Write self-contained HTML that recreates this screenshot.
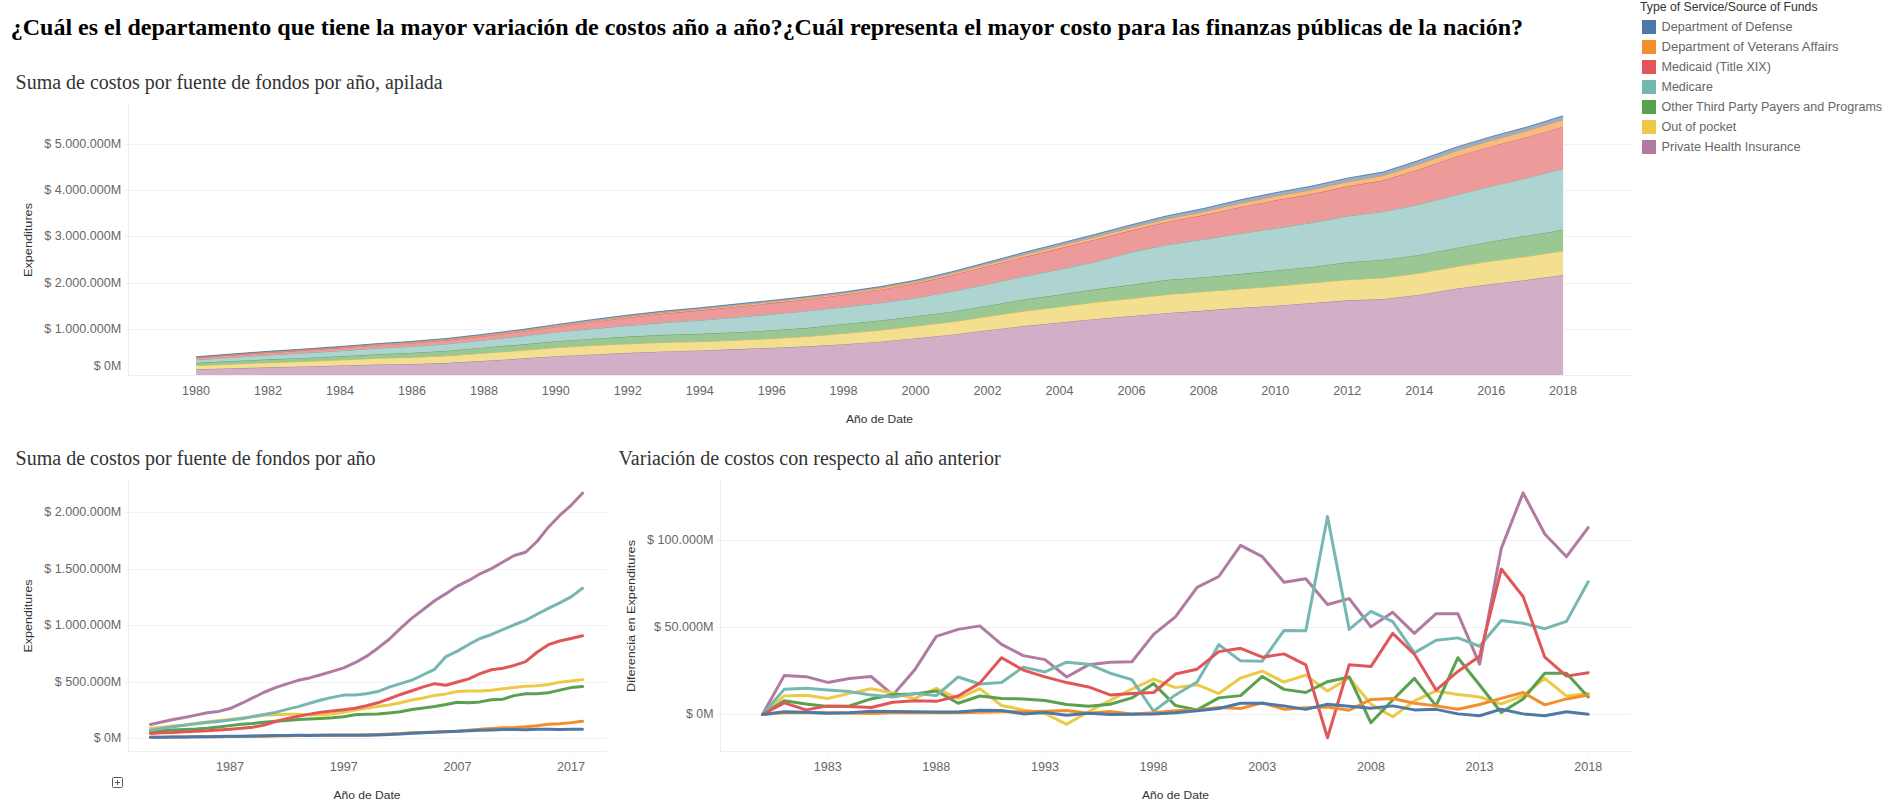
<!DOCTYPE html>
<html lang="es"><head><meta charset="utf-8"><title>Dashboard</title>
<style>html,body{margin:0;padding:0;background:#fff;width:1887px;height:809px;overflow:hidden}</style>
</head><body>
<svg width="1887" height="809" viewBox="0 0 1887 809" style="position:absolute;left:0;top:0">
<text x="10.8" y="35" font-size="24" fill="#000" text-anchor="start" font-family="'Liberation Serif', serif" textLength="1512.2" lengthAdjust="spacingAndGlyphs" font-weight="bold">¿Cuál es el departamento que tiene la mayor variación de costos año a año?¿Cuál representa el mayor costo para las finanzas públicas de la nación?</text>
<text x="15.6" y="89" font-size="20" fill="#333333" text-anchor="start" font-family="'Liberation Serif', serif" textLength="427" lengthAdjust="spacingAndGlyphs" >Suma de costos por fuente de fondos por año, apilada</text>
<text x="15.6" y="464.7" font-size="20" fill="#333333" text-anchor="start" font-family="'Liberation Serif', serif" textLength="360" lengthAdjust="spacingAndGlyphs" >Suma de costos por fuente de fondos por año</text>
<text x="618.6" y="464.7" font-size="20" fill="#333333" text-anchor="start" font-family="'Liberation Serif', serif" textLength="382" lengthAdjust="spacingAndGlyphs" >Variación de costos con respecto al año anterior</text>
<text x="1640" y="10.5" font-size="12" fill="#333333" text-anchor="start" font-family="'Liberation Sans', sans-serif" textLength="177.5" lengthAdjust="spacingAndGlyphs" >Type of Service/Source of Funds</text>
<rect x="1642" y="20" width="14" height="14" fill="#4e79a7"/>
<text x="1661.5" y="31" font-size="12" fill="#666666" text-anchor="start" font-family="'Liberation Sans', sans-serif" textLength="131" lengthAdjust="spacingAndGlyphs" >Department of Defense</text>
<rect x="1642" y="40" width="14" height="14" fill="#f28e2b"/>
<text x="1661.5" y="51" font-size="12" fill="#666666" text-anchor="start" font-family="'Liberation Sans', sans-serif" textLength="177" lengthAdjust="spacingAndGlyphs" >Department of Veterans Affairs</text>
<rect x="1642" y="60" width="14" height="14" fill="#e15759"/>
<text x="1661.5" y="71" font-size="12" fill="#666666" text-anchor="start" font-family="'Liberation Sans', sans-serif" textLength="109.4" lengthAdjust="spacingAndGlyphs" >Medicaid (Title XIX)</text>
<rect x="1642" y="80" width="14" height="14" fill="#76b7b2"/>
<text x="1661.5" y="91" font-size="12" fill="#666666" text-anchor="start" font-family="'Liberation Sans', sans-serif" textLength="51.4" lengthAdjust="spacingAndGlyphs" >Medicare</text>
<rect x="1642" y="100" width="14" height="14" fill="#59a14f"/>
<text x="1661.5" y="111" font-size="12" fill="#666666" text-anchor="start" font-family="'Liberation Sans', sans-serif" textLength="220.6" lengthAdjust="spacingAndGlyphs" >Other Third Party Payers and Programs</text>
<rect x="1642" y="120" width="14" height="14" fill="#edc948"/>
<text x="1661.5" y="131" font-size="12" fill="#666666" text-anchor="start" font-family="'Liberation Sans', sans-serif" textLength="74.8" lengthAdjust="spacingAndGlyphs" >Out of pocket</text>
<rect x="1642" y="140" width="14" height="14" fill="#b07aa1"/>
<text x="1661.5" y="151" font-size="12" fill="#666666" text-anchor="start" font-family="'Liberation Sans', sans-serif" textLength="139" lengthAdjust="spacingAndGlyphs" >Private Health Insurance</text>
<text x="121.3" y="370.0" font-size="12" fill="#666666" text-anchor="end" font-family="'Liberation Sans', sans-serif" textLength="27.5" lengthAdjust="spacingAndGlyphs" >$ 0M</text>
<line x1="124.5" y1="329.5" x2="1632" y2="329.5" stroke="#f1f1f1" stroke-width="1"/>
<text x="121.3" y="332.7" font-size="12" fill="#666666" text-anchor="end" font-family="'Liberation Sans', sans-serif" textLength="77" lengthAdjust="spacingAndGlyphs" >$ 1.000.000M</text>
<line x1="124.5" y1="283.5" x2="1632" y2="283.5" stroke="#f1f1f1" stroke-width="1"/>
<text x="121.3" y="286.7" font-size="12" fill="#666666" text-anchor="end" font-family="'Liberation Sans', sans-serif" textLength="77" lengthAdjust="spacingAndGlyphs" >$ 2.000.000M</text>
<line x1="124.5" y1="236.5" x2="1632" y2="236.5" stroke="#f1f1f1" stroke-width="1"/>
<text x="121.3" y="239.7" font-size="12" fill="#666666" text-anchor="end" font-family="'Liberation Sans', sans-serif" textLength="77" lengthAdjust="spacingAndGlyphs" >$ 3.000.000M</text>
<line x1="124.5" y1="190.5" x2="1632" y2="190.5" stroke="#f1f1f1" stroke-width="1"/>
<text x="121.3" y="193.7" font-size="12" fill="#666666" text-anchor="end" font-family="'Liberation Sans', sans-serif" textLength="77" lengthAdjust="spacingAndGlyphs" >$ 4.000.000M</text>
<line x1="124.5" y1="144.5" x2="1632" y2="144.5" stroke="#f1f1f1" stroke-width="1"/>
<text x="121.3" y="147.7" font-size="12" fill="#666666" text-anchor="end" font-family="'Liberation Sans', sans-serif" textLength="77" lengthAdjust="spacingAndGlyphs" >$ 5.000.000M</text>
<line x1="128.5" y1="104" x2="128.5" y2="375.5" stroke="#eeeeee" stroke-width="1"/>
<line x1="128.5" y1="375.5" x2="1632" y2="375.5" stroke="#eeeeee" stroke-width="1"/>
<polygon points="196.1,369.29 232.1,368.27 268.0,367.28 304.0,366.45 340.0,365.50 376.0,364.51 411.9,364.01 447.9,362.85 483.9,360.80 519.9,358.57 555.8,356.24 591.8,354.39 627.8,352.84 663.8,351.39 699.7,350.41 735.7,349.10 771.7,347.72 807.7,346.33 843.6,344.22 879.6,341.64 915.6,338.29 951.5,334.65 987.5,330.19 1023.5,326.02 1059.5,322.53 1095.4,318.93 1131.4,316.01 1167.4,312.94 1203.4,310.60 1239.3,307.87 1275.3,305.70 1311.3,303.03 1347.3,300.36 1383.2,299.03 1419.2,294.63 1455.2,288.78 1491.2,284.01 1527.1,279.84 1563.1,274.90 1563.1,374.90 1527.1,374.90 1491.2,374.90 1455.2,374.90 1419.2,374.90 1383.2,374.90 1347.3,374.90 1311.3,374.90 1275.3,374.90 1239.3,374.90 1203.4,374.90 1167.4,374.90 1131.4,374.90 1095.4,374.90 1059.5,374.90 1023.5,374.90 987.5,374.90 951.5,374.90 915.6,374.90 879.6,374.90 843.6,374.90 807.7,374.90 771.7,374.90 735.7,374.90 699.7,374.90 663.8,374.90 627.8,374.90 591.8,374.90 555.8,374.90 519.9,374.90 483.9,374.90 447.9,374.90 411.9,374.90 376.0,374.90 340.0,374.90 304.0,374.90 268.0,374.90 232.1,374.90 196.1,374.90" fill="#d0afc7" stroke="none"/>
<polyline points="196.1,369.29 232.1,368.27 268.0,367.28 304.0,366.45 340.0,365.50 376.0,364.51 411.9,364.01 447.9,362.85 483.9,360.80 519.9,358.57 555.8,356.24 591.8,354.39 627.8,352.84 663.8,351.39 699.7,350.41 735.7,349.10 771.7,347.72 807.7,346.33 843.6,344.22 879.6,341.64 915.6,338.29 951.5,334.65 987.5,330.19 1023.5,326.02 1059.5,322.53 1095.4,318.93 1131.4,316.01 1167.4,312.94 1203.4,310.60 1239.3,307.87 1275.3,305.70 1311.3,303.03 1347.3,300.36 1383.2,299.03 1419.2,294.63 1455.2,288.78 1491.2,284.01 1527.1,279.84 1563.1,274.90" fill="none" stroke="#9a6b8d" stroke-opacity="0.85" stroke-width="0.9"/>
<polygon points="196.1,365.59 232.1,364.13 268.0,362.68 304.0,361.47 340.0,360.01 376.0,358.39 411.9,357.38 447.9,355.86 483.9,353.19 519.9,350.60 555.8,347.66 591.8,345.57 627.8,343.90 663.8,342.44 699.7,341.71 735.7,340.34 771.7,338.59 807.7,336.54 843.6,333.51 879.6,330.24 915.6,326.11 951.5,321.92 987.5,316.51 1023.5,311.22 1059.5,306.89 1095.4,302.19 1131.4,298.59 1167.4,294.48 1203.4,291.73 1239.3,288.94 1275.3,286.28 1311.3,282.95 1347.3,279.72 1383.2,277.89 1419.2,273.17 1455.2,266.81 1491.2,261.08 1527.1,256.41 1563.1,250.91 1563.1,274.90 1527.1,279.84 1491.2,284.01 1455.2,288.78 1419.2,294.63 1383.2,299.03 1347.3,300.36 1311.3,303.03 1275.3,305.70 1239.3,307.87 1203.4,310.60 1167.4,312.94 1131.4,316.01 1095.4,318.93 1059.5,322.53 1023.5,326.02 987.5,330.19 951.5,334.65 915.6,338.29 879.6,341.64 843.6,344.22 807.7,346.33 771.7,347.72 735.7,349.10 699.7,350.41 663.8,351.39 627.8,352.84 591.8,354.39 555.8,356.24 519.9,358.57 483.9,360.80 447.9,362.85 411.9,364.01 376.0,364.51 340.0,365.50 304.0,366.45 268.0,367.28 232.1,368.27 196.1,369.29" fill="#f4df91" stroke="none"/>
<polyline points="196.1,365.59 232.1,364.13 268.0,362.68 304.0,361.47 340.0,360.01 376.0,358.39 411.9,357.38 447.9,355.86 483.9,353.19 519.9,350.60 555.8,347.66 591.8,345.57 627.8,343.90 663.8,342.44 699.7,341.71 735.7,340.34 771.7,338.59 807.7,336.54 843.6,333.51 879.6,330.24 915.6,326.11 951.5,321.92 987.5,316.51 1023.5,311.22 1059.5,306.89 1095.4,302.19 1131.4,298.59 1167.4,294.48 1203.4,291.73 1239.3,288.94 1275.3,286.28 1311.3,282.95 1347.3,279.72 1383.2,277.89 1419.2,273.17 1455.2,266.81 1491.2,261.08 1527.1,256.41 1563.1,250.91" fill="none" stroke="#d0b03f" stroke-opacity="0.85" stroke-width="0.9"/>
<polygon points="196.1,362.83 232.1,361.03 268.0,359.32 304.0,357.91 340.0,356.25 376.0,354.23 411.9,352.73 447.9,350.70 483.9,347.44 519.9,344.57 555.8,341.17 591.8,338.68 627.8,336.62 663.8,334.80 699.7,333.83 735.7,332.25 771.7,330.25 807.7,327.78 843.6,323.97 879.6,320.47 915.6,316.23 951.5,311.63 987.5,305.74 1023.5,299.49 1059.5,294.53 1095.4,289.27 1131.4,284.83 1167.4,279.77 1203.4,277.23 1239.3,274.06 1275.3,270.47 1311.3,266.93 1347.3,262.26 1383.2,259.68 1419.2,254.91 1455.2,248.15 1491.2,241.38 1527.1,235.66 1563.1,229.72 1563.1,250.91 1527.1,256.41 1491.2,261.08 1455.2,266.81 1419.2,273.17 1383.2,277.89 1347.3,279.72 1311.3,282.95 1275.3,286.28 1239.3,288.94 1203.4,291.73 1167.4,294.48 1131.4,298.59 1095.4,302.19 1059.5,306.89 1023.5,311.22 987.5,316.51 951.5,321.92 915.6,326.11 879.6,330.24 843.6,333.51 807.7,336.54 771.7,338.59 735.7,340.34 699.7,341.71 663.8,342.44 627.8,343.90 591.8,345.57 555.8,347.66 519.9,350.60 483.9,353.19 447.9,355.86 411.9,357.38 376.0,358.39 340.0,360.01 304.0,361.47 268.0,362.68 232.1,364.13 196.1,365.59" fill="#9bc795" stroke="none"/>
<polyline points="196.1,362.83 232.1,361.03 268.0,359.32 304.0,357.91 340.0,356.25 376.0,354.23 411.9,352.73 447.9,350.70 483.9,347.44 519.9,344.57 555.8,341.17 591.8,338.68 627.8,336.62 663.8,334.80 699.7,333.83 735.7,332.25 771.7,330.25 807.7,327.78 843.6,323.97 879.6,320.47 915.6,316.23 951.5,311.63 987.5,305.74 1023.5,299.49 1059.5,294.53 1095.4,289.27 1131.4,284.83 1167.4,279.77 1203.4,277.23 1239.3,274.06 1275.3,270.47 1311.3,266.93 1347.3,262.26 1383.2,259.68 1419.2,254.91 1455.2,248.15 1491.2,241.38 1527.1,235.66 1563.1,229.72" fill="none" stroke="#4e8d45" stroke-opacity="0.85" stroke-width="0.9"/>
<polygon points="196.1,359.83 232.1,357.40 268.0,355.03 304.0,353.01 340.0,350.78 376.0,348.29 411.9,346.38 447.9,343.84 483.9,340.13 519.9,336.33 555.8,332.17 591.8,328.85 627.8,325.55 663.8,322.61 699.7,320.27 735.7,317.36 771.7,314.28 807.7,310.89 843.6,307.00 879.6,302.99 915.6,297.90 951.5,291.46 987.5,284.17 1023.5,276.52 1059.5,269.34 1095.4,261.81 1131.4,252.10 1167.4,244.74 1203.4,239.37 1239.3,233.64 1275.3,228.32 1311.3,222.78 1347.3,216.06 1383.2,211.64 1419.2,204.37 1455.2,195.19 1491.2,186.14 1527.1,177.96 1563.1,168.51 1563.1,229.72 1527.1,235.66 1491.2,241.38 1455.2,248.15 1419.2,254.91 1383.2,259.68 1347.3,262.26 1311.3,266.93 1275.3,270.47 1239.3,274.06 1203.4,277.23 1167.4,279.77 1131.4,284.83 1095.4,289.27 1059.5,294.53 1023.5,299.49 987.5,305.74 951.5,311.63 915.6,316.23 879.6,320.47 843.6,323.97 807.7,327.78 771.7,330.25 735.7,332.25 699.7,333.83 663.8,334.80 627.8,336.62 591.8,338.68 555.8,341.17 519.9,344.57 483.9,347.44 447.9,350.70 411.9,352.73 376.0,354.23 340.0,356.25 304.0,357.91 268.0,359.32 232.1,361.03 196.1,362.83" fill="#add4d1" stroke="none"/>
<polyline points="196.1,359.83 232.1,357.40 268.0,355.03 304.0,353.01 340.0,350.78 376.0,348.29 411.9,346.38 447.9,343.84 483.9,340.13 519.9,336.33 555.8,332.17 591.8,328.85 627.8,325.55 663.8,322.61 699.7,320.27 735.7,317.36 771.7,314.28 807.7,310.89 843.6,307.00 879.6,302.99 915.6,297.90 951.5,291.46 987.5,284.17 1023.5,276.52 1059.5,269.34 1095.4,261.81 1131.4,252.10 1167.4,244.74 1203.4,239.37 1239.3,233.64 1275.3,228.32 1311.3,222.78 1347.3,216.06 1383.2,211.64 1419.2,204.37 1455.2,195.19 1491.2,186.14 1527.1,177.96 1563.1,168.51" fill="none" stroke="#67a19c" stroke-opacity="0.85" stroke-width="0.9"/>
<polygon points="196.1,357.75 232.1,355.02 268.0,352.54 304.0,350.30 340.0,347.85 376.0,345.17 411.9,342.94 447.9,340.05 483.9,336.00 519.9,331.71 555.8,326.73 591.8,321.91 627.8,317.44 663.8,313.51 699.7,310.33 735.7,306.70 771.7,303.11 807.7,299.17 843.6,294.70 879.6,289.63 915.6,283.35 951.5,275.26 987.5,266.22 1023.5,257.06 1059.5,248.29 1095.4,239.46 1131.4,230.37 1167.4,221.70 1203.4,215.07 1239.3,207.21 1275.3,200.30 1311.3,194.12 1347.3,186.27 1383.2,180.33 1419.2,169.22 1455.2,156.94 1491.2,146.38 1527.1,137.19 1563.1,126.64 1563.1,168.51 1527.1,177.96 1491.2,186.14 1455.2,195.19 1419.2,204.37 1383.2,211.64 1347.3,216.06 1311.3,222.78 1275.3,228.32 1239.3,233.64 1203.4,239.37 1167.4,244.74 1131.4,252.10 1095.4,261.81 1059.5,269.34 1023.5,276.52 987.5,284.17 951.5,291.46 915.6,297.90 879.6,302.99 843.6,307.00 807.7,310.89 771.7,314.28 735.7,317.36 699.7,320.27 663.8,322.61 627.8,325.55 591.8,328.85 555.8,332.17 519.9,336.33 483.9,340.13 447.9,343.84 411.9,346.38 376.0,348.29 340.0,350.78 304.0,353.01 268.0,355.03 232.1,357.40 196.1,359.83" fill="#ed9a9b" stroke="none"/>
<polyline points="196.1,357.75 232.1,355.02 268.0,352.54 304.0,350.30 340.0,347.85 376.0,345.17 411.9,342.94 447.9,340.05 483.9,336.00 519.9,331.71 555.8,326.73 591.8,321.91 627.8,317.44 663.8,313.51 699.7,310.33 735.7,306.70 771.7,303.11 807.7,299.17 843.6,294.70 879.6,289.63 915.6,283.35 951.5,275.26 987.5,266.22 1023.5,257.06 1059.5,248.29 1095.4,239.46 1131.4,230.37 1167.4,221.70 1203.4,215.07 1239.3,207.21 1275.3,200.30 1311.3,194.12 1347.3,186.27 1383.2,180.33 1419.2,169.22 1455.2,156.94 1491.2,146.38 1527.1,137.19 1563.1,126.64" fill="none" stroke="#c64c4e" stroke-opacity="0.85" stroke-width="0.9"/>
<polygon points="196.1,357.25 232.1,354.47 268.0,351.94 304.0,349.65 340.0,347.17 376.0,344.46 411.9,342.19 447.9,339.25 483.9,335.15 519.9,330.82 555.8,325.78 591.8,320.89 627.8,316.35 663.8,312.34 699.7,309.05 735.7,305.38 771.7,301.71 807.7,297.76 843.6,293.25 879.6,288.07 915.6,281.67 951.5,273.39 987.5,264.19 1023.5,254.72 1059.5,245.81 1095.4,236.80 1131.4,227.51 1167.4,218.72 1203.4,211.69 1239.3,203.39 1275.3,196.18 1311.3,189.77 1347.3,181.78 1383.2,175.56 1419.2,164.02 1455.2,151.15 1491.2,140.33 1527.1,130.72 1563.1,119.64 1563.1,126.64 1527.1,137.19 1491.2,146.38 1455.2,156.94 1419.2,169.22 1383.2,180.33 1347.3,186.27 1311.3,194.12 1275.3,200.30 1239.3,207.21 1203.4,215.07 1167.4,221.70 1131.4,230.37 1095.4,239.46 1059.5,248.29 1023.5,257.06 987.5,266.22 951.5,275.26 915.6,283.35 879.6,289.63 843.6,294.70 807.7,299.17 771.7,303.11 735.7,306.70 699.7,310.33 663.8,313.51 627.8,317.44 591.8,321.91 555.8,326.73 519.9,331.71 483.9,336.00 447.9,340.05 411.9,342.94 376.0,345.17 340.0,347.85 304.0,350.30 268.0,352.54 232.1,355.02 196.1,357.75" fill="#f7bb80" stroke="none"/>
<polyline points="196.1,357.25 232.1,354.47 268.0,351.94 304.0,349.65 340.0,347.17 376.0,344.46 411.9,342.19 447.9,339.25 483.9,335.15 519.9,330.82 555.8,325.78 591.8,320.89 627.8,316.35 663.8,312.34 699.7,309.05 735.7,305.38 771.7,301.71 807.7,297.76 843.6,293.25 879.6,288.07 915.6,281.67 951.5,273.39 987.5,264.19 1023.5,254.72 1059.5,245.81 1095.4,236.80 1131.4,227.51 1167.4,218.72 1203.4,211.69 1239.3,203.39 1275.3,196.18 1311.3,189.77 1347.3,181.78 1383.2,175.56 1419.2,164.02 1455.2,151.15 1491.2,140.33 1527.1,130.72 1563.1,119.64" fill="none" stroke="#d47c25" stroke-opacity="0.85" stroke-width="0.9"/>
<polygon points="196.1,356.79 232.1,353.94 268.0,351.35 304.0,349.03 340.0,346.50 376.0,343.72 411.9,341.37 447.9,338.36 483.9,334.20 519.9,329.80 555.8,324.66 591.8,319.67 627.8,315.11 663.8,311.05 699.7,307.78 735.7,304.09 771.7,300.42 807.7,296.46 843.6,291.94 879.6,286.72 915.6,280.22 951.5,271.79 987.5,262.31 1023.5,252.55 1059.5,243.42 1095.4,234.28 1131.4,224.72 1167.4,215.73 1203.4,208.54 1239.3,200.02 1275.3,192.69 1311.3,186.16 1347.3,178.15 1383.2,171.97 1419.2,160.30 1455.2,147.40 1491.2,136.63 1527.1,126.95 1563.1,115.86 1563.1,119.64 1527.1,130.72 1491.2,140.33 1455.2,151.15 1419.2,164.02 1383.2,175.56 1347.3,181.78 1311.3,189.77 1275.3,196.18 1239.3,203.39 1203.4,211.69 1167.4,218.72 1131.4,227.51 1095.4,236.80 1059.5,245.81 1023.5,254.72 987.5,264.19 951.5,273.39 915.6,281.67 879.6,288.07 843.6,293.25 807.7,297.76 771.7,301.71 735.7,305.38 699.7,309.05 663.8,312.34 627.8,316.35 591.8,320.89 555.8,325.78 519.9,330.82 483.9,335.15 447.9,339.25 411.9,342.19 376.0,344.46 340.0,347.17 304.0,349.65 268.0,351.94 232.1,354.47 196.1,357.25" fill="#95afca" stroke="none"/>
<polyline points="196.1,356.79 232.1,353.94 268.0,351.35 304.0,349.03 340.0,346.50 376.0,343.72 411.9,341.37 447.9,338.36 483.9,334.20 519.9,329.80 555.8,324.66 591.8,319.67 627.8,315.11 663.8,311.05 699.7,307.78 735.7,304.09 771.7,300.42 807.7,296.46 843.6,291.94 879.6,286.72 915.6,280.22 951.5,271.79 987.5,262.31 1023.5,252.55 1059.5,243.42 1095.4,234.28 1131.4,224.72 1167.4,215.73 1203.4,208.54 1239.3,200.02 1275.3,192.69 1311.3,186.16 1347.3,178.15 1383.2,171.97 1419.2,160.30 1455.2,147.40 1491.2,136.63 1527.1,126.95 1563.1,115.86" fill="none" stroke="#446a92" stroke-opacity="0.85" stroke-width="0.9"/>
<line x1="196.1" y1="375.4" x2="196.1" y2="378.9" stroke="#f4f4f4" stroke-width="1"/>
<text x="196.1" y="394.8" font-size="12" fill="#666666" text-anchor="middle" font-family="'Liberation Sans', sans-serif" textLength="28" lengthAdjust="spacingAndGlyphs" >1980</text>
<line x1="268.0" y1="375.4" x2="268.0" y2="378.9" stroke="#f4f4f4" stroke-width="1"/>
<text x="268.0" y="394.8" font-size="12" fill="#666666" text-anchor="middle" font-family="'Liberation Sans', sans-serif" textLength="28" lengthAdjust="spacingAndGlyphs" >1982</text>
<line x1="340.0" y1="375.4" x2="340.0" y2="378.9" stroke="#f4f4f4" stroke-width="1"/>
<text x="340.0" y="394.8" font-size="12" fill="#666666" text-anchor="middle" font-family="'Liberation Sans', sans-serif" textLength="28" lengthAdjust="spacingAndGlyphs" >1984</text>
<line x1="411.9" y1="375.4" x2="411.9" y2="378.9" stroke="#f4f4f4" stroke-width="1"/>
<text x="411.9" y="394.8" font-size="12" fill="#666666" text-anchor="middle" font-family="'Liberation Sans', sans-serif" textLength="28" lengthAdjust="spacingAndGlyphs" >1986</text>
<line x1="483.9" y1="375.4" x2="483.9" y2="378.9" stroke="#f4f4f4" stroke-width="1"/>
<text x="483.9" y="394.8" font-size="12" fill="#666666" text-anchor="middle" font-family="'Liberation Sans', sans-serif" textLength="28" lengthAdjust="spacingAndGlyphs" >1988</text>
<line x1="555.8" y1="375.4" x2="555.8" y2="378.9" stroke="#f4f4f4" stroke-width="1"/>
<text x="555.8" y="394.8" font-size="12" fill="#666666" text-anchor="middle" font-family="'Liberation Sans', sans-serif" textLength="28" lengthAdjust="spacingAndGlyphs" >1990</text>
<line x1="627.8" y1="375.4" x2="627.8" y2="378.9" stroke="#f4f4f4" stroke-width="1"/>
<text x="627.8" y="394.8" font-size="12" fill="#666666" text-anchor="middle" font-family="'Liberation Sans', sans-serif" textLength="28" lengthAdjust="spacingAndGlyphs" >1992</text>
<line x1="699.7" y1="375.4" x2="699.7" y2="378.9" stroke="#f4f4f4" stroke-width="1"/>
<text x="699.7" y="394.8" font-size="12" fill="#666666" text-anchor="middle" font-family="'Liberation Sans', sans-serif" textLength="28" lengthAdjust="spacingAndGlyphs" >1994</text>
<line x1="771.7" y1="375.4" x2="771.7" y2="378.9" stroke="#f4f4f4" stroke-width="1"/>
<text x="771.7" y="394.8" font-size="12" fill="#666666" text-anchor="middle" font-family="'Liberation Sans', sans-serif" textLength="28" lengthAdjust="spacingAndGlyphs" >1996</text>
<line x1="843.6" y1="375.4" x2="843.6" y2="378.9" stroke="#f4f4f4" stroke-width="1"/>
<text x="843.6" y="394.8" font-size="12" fill="#666666" text-anchor="middle" font-family="'Liberation Sans', sans-serif" textLength="28" lengthAdjust="spacingAndGlyphs" >1998</text>
<line x1="915.6" y1="375.4" x2="915.6" y2="378.9" stroke="#f4f4f4" stroke-width="1"/>
<text x="915.6" y="394.8" font-size="12" fill="#666666" text-anchor="middle" font-family="'Liberation Sans', sans-serif" textLength="28" lengthAdjust="spacingAndGlyphs" >2000</text>
<line x1="987.5" y1="375.4" x2="987.5" y2="378.9" stroke="#f4f4f4" stroke-width="1"/>
<text x="987.5" y="394.8" font-size="12" fill="#666666" text-anchor="middle" font-family="'Liberation Sans', sans-serif" textLength="28" lengthAdjust="spacingAndGlyphs" >2002</text>
<line x1="1059.5" y1="375.4" x2="1059.5" y2="378.9" stroke="#f4f4f4" stroke-width="1"/>
<text x="1059.5" y="394.8" font-size="12" fill="#666666" text-anchor="middle" font-family="'Liberation Sans', sans-serif" textLength="28" lengthAdjust="spacingAndGlyphs" >2004</text>
<line x1="1131.4" y1="375.4" x2="1131.4" y2="378.9" stroke="#f4f4f4" stroke-width="1"/>
<text x="1131.4" y="394.8" font-size="12" fill="#666666" text-anchor="middle" font-family="'Liberation Sans', sans-serif" textLength="28" lengthAdjust="spacingAndGlyphs" >2006</text>
<line x1="1203.4" y1="375.4" x2="1203.4" y2="378.9" stroke="#f4f4f4" stroke-width="1"/>
<text x="1203.4" y="394.8" font-size="12" fill="#666666" text-anchor="middle" font-family="'Liberation Sans', sans-serif" textLength="28" lengthAdjust="spacingAndGlyphs" >2008</text>
<line x1="1275.3" y1="375.4" x2="1275.3" y2="378.9" stroke="#f4f4f4" stroke-width="1"/>
<text x="1275.3" y="394.8" font-size="12" fill="#666666" text-anchor="middle" font-family="'Liberation Sans', sans-serif" textLength="28" lengthAdjust="spacingAndGlyphs" >2010</text>
<line x1="1347.3" y1="375.4" x2="1347.3" y2="378.9" stroke="#f4f4f4" stroke-width="1"/>
<text x="1347.3" y="394.8" font-size="12" fill="#666666" text-anchor="middle" font-family="'Liberation Sans', sans-serif" textLength="28" lengthAdjust="spacingAndGlyphs" >2012</text>
<line x1="1419.2" y1="375.4" x2="1419.2" y2="378.9" stroke="#f4f4f4" stroke-width="1"/>
<text x="1419.2" y="394.8" font-size="12" fill="#666666" text-anchor="middle" font-family="'Liberation Sans', sans-serif" textLength="28" lengthAdjust="spacingAndGlyphs" >2014</text>
<line x1="1491.2" y1="375.4" x2="1491.2" y2="378.9" stroke="#f4f4f4" stroke-width="1"/>
<text x="1491.2" y="394.8" font-size="12" fill="#666666" text-anchor="middle" font-family="'Liberation Sans', sans-serif" textLength="28" lengthAdjust="spacingAndGlyphs" >2016</text>
<line x1="1563.1" y1="375.4" x2="1563.1" y2="378.9" stroke="#f4f4f4" stroke-width="1"/>
<text x="1563.1" y="394.8" font-size="12" fill="#666666" text-anchor="middle" font-family="'Liberation Sans', sans-serif" textLength="28" lengthAdjust="spacingAndGlyphs" >2018</text>
<text x="879.5" y="423" font-size="11.5" fill="#333333" text-anchor="middle" font-family="'Liberation Sans', sans-serif" textLength="67" lengthAdjust="spacingAndGlyphs" >Año de Date</text>
<text transform="translate(31.5,240) rotate(-90)" font-size="11.5" fill="#333333" text-anchor="middle" font-family="'Liberation Sans', sans-serif" textLength="74" lengthAdjust="spacingAndGlyphs">Expenditures</text>
<line x1="124.5" y1="738.5" x2="606.8" y2="738.5" stroke="#f1f1f1" stroke-width="1"/>
<text x="121.3" y="741.8" font-size="12" fill="#666666" text-anchor="end" font-family="'Liberation Sans', sans-serif" textLength="27.5" lengthAdjust="spacingAndGlyphs" >$ 0M</text>
<line x1="124.5" y1="682.5" x2="606.8" y2="682.5" stroke="#f1f1f1" stroke-width="1"/>
<text x="121.3" y="685.8" font-size="12" fill="#666666" text-anchor="end" font-family="'Liberation Sans', sans-serif" textLength="66.5" lengthAdjust="spacingAndGlyphs" >$ 500.000M</text>
<line x1="124.5" y1="625.5" x2="606.8" y2="625.5" stroke="#f1f1f1" stroke-width="1"/>
<text x="121.3" y="628.8" font-size="12" fill="#666666" text-anchor="end" font-family="'Liberation Sans', sans-serif" textLength="77" lengthAdjust="spacingAndGlyphs" >$ 1.000.000M</text>
<line x1="124.5" y1="569.5" x2="606.8" y2="569.5" stroke="#f1f1f1" stroke-width="1"/>
<text x="121.3" y="572.8" font-size="12" fill="#666666" text-anchor="end" font-family="'Liberation Sans', sans-serif" textLength="77" lengthAdjust="spacingAndGlyphs" >$ 1.500.000M</text>
<line x1="124.5" y1="512.5" x2="606.8" y2="512.5" stroke="#f1f1f1" stroke-width="1"/>
<text x="121.3" y="515.8" font-size="12" fill="#666666" text-anchor="end" font-family="'Liberation Sans', sans-serif" textLength="77" lengthAdjust="spacingAndGlyphs" >$ 2.000.000M</text>
<line x1="128.5" y1="479.5" x2="128.5" y2="751.5" stroke="#eeeeee" stroke-width="1"/>
<line x1="128.5" y1="751.5" x2="606.8" y2="751.5" stroke="#eeeeee" stroke-width="1"/>
<polyline points="150.4,724.49 161.8,721.98 173.1,719.53 184.5,717.46 195.9,715.13 207.2,712.67 218.6,711.41 230.0,708.54 241.4,703.48 252.7,697.97 264.1,692.24 275.5,687.70 286.8,683.89 298.2,680.34 309.6,677.92 320.9,674.71 332.3,671.33 343.7,667.92 355.1,662.73 366.4,656.41 377.8,648.19 389.2,639.26 400.5,628.31 411.9,618.09 423.3,609.53 434.6,600.74 446.0,593.63 457.4,586.12 468.8,580.45 480.1,573.83 491.5,568.58 502.9,562.06 514.2,555.54 525.6,552.28 537.0,541.53 548.4,527.17 559.7,515.49 571.1,505.28 582.5,493.18" fill="none" stroke="#b07aa1" stroke-width="3" stroke-linejoin="round" stroke-linecap="round"/>
<polyline points="150.4,728.33 161.8,727.15 173.1,725.93 184.5,724.92 195.9,723.57 207.2,721.93 218.6,720.56 230.0,719.55 241.4,717.88 252.7,716.87 264.1,715.23 275.5,714.66 286.8,714.37 298.2,714.31 309.6,714.97 320.9,714.80 332.3,713.90 343.7,712.28 355.1,710.02 366.4,708.31 377.8,706.41 389.2,705.08 400.5,702.75 411.9,699.98 423.3,697.92 434.6,695.41 446.0,693.90 457.4,691.56 468.8,690.89 480.1,691.05 491.5,690.19 502.9,688.69 514.2,687.42 525.6,686.31 537.0,685.64 548.4,684.44 559.7,682.14 571.1,680.96 582.5,679.63" fill="none" stroke="#edc948" stroke-width="3" stroke-linejoin="round" stroke-linecap="round"/>
<polyline points="150.4,731.61 161.8,730.77 173.1,730.12 184.5,729.62 195.9,729.09 207.2,728.13 218.6,726.90 230.0,725.63 241.4,724.18 252.7,723.49 264.1,722.34 275.5,721.35 286.8,720.39 298.2,719.53 309.6,718.91 320.9,718.41 332.3,717.78 343.7,716.76 355.1,714.85 366.4,714.30 377.8,714.02 389.2,712.99 400.5,711.83 411.9,709.48 423.3,707.92 434.6,706.56 446.0,704.54 457.4,702.22 468.8,702.78 480.1,701.89 491.5,699.66 502.9,699.13 514.2,695.61 525.6,693.79 537.0,693.67 548.4,692.71 559.7,690.15 571.1,687.60 582.5,686.52" fill="none" stroke="#59a14f" stroke-width="3" stroke-linejoin="round" stroke-linecap="round"/>
<polyline points="150.4,730.14 161.8,728.52 173.1,726.84 184.5,725.27 195.9,723.80 207.2,722.54 218.6,721.42 230.0,720.06 241.4,718.85 252.7,716.43 264.1,714.47 275.5,712.42 286.8,709.36 298.2,706.63 309.6,703.26 320.9,700.02 332.3,697.36 343.7,695.11 355.1,694.91 366.4,693.65 377.8,691.56 389.2,687.06 400.5,683.61 411.9,680.17 423.3,674.75 434.6,669.35 446.0,656.58 457.4,651.09 468.8,644.44 480.1,638.46 491.5,634.48 502.9,629.70 514.2,624.76 525.6,620.36 537.0,614.30 548.4,608.42 559.7,602.89 571.1,596.89 582.5,588.32" fill="none" stroke="#76b7b2" stroke-width="3" stroke-linejoin="round" stroke-linecap="round"/>
<polyline points="150.4,733.41 161.8,732.67 173.1,732.38 184.5,731.83 195.9,731.31 207.2,730.86 218.6,730.08 230.0,729.20 241.4,728.36 252.7,727.17 264.1,725.14 275.5,721.48 286.8,718.61 298.2,716.19 309.6,714.13 320.9,712.35 332.3,711.10 343.7,709.75 355.1,708.33 366.4,705.72 377.8,702.80 389.2,698.75 400.5,694.47 411.9,690.78 423.3,686.87 434.6,683.66 446.0,685.19 457.4,681.98 468.8,678.89 480.1,673.66 491.5,669.77 502.9,668.19 514.2,665.42 525.6,661.66 537.0,652.27 548.4,644.65 559.7,640.95 571.1,638.48 582.5,635.78" fill="none" stroke="#e15759" stroke-width="3" stroke-linejoin="round" stroke-linecap="round"/>
<polyline points="150.4,737.26 161.8,737.14 173.1,737.03 184.5,736.91 195.9,736.82 207.2,736.76 218.6,736.65 230.0,736.54 241.4,736.42 252.7,736.31 264.1,736.17 275.5,735.99 286.8,735.82 298.2,735.61 309.6,735.34 320.9,735.26 332.3,735.07 343.7,735.03 355.1,734.93 366.4,734.68 377.8,734.38 389.2,733.92 400.5,733.52 411.9,732.76 423.3,732.41 434.6,731.97 446.0,731.47 457.4,731.19 468.8,730.19 480.1,729.14 491.5,728.40 502.9,727.83 514.2,727.48 525.6,726.82 537.0,725.75 548.4,724.29 559.7,723.65 571.1,722.62 582.5,721.32" fill="none" stroke="#f28e2b" stroke-width="3" stroke-linejoin="round" stroke-linecap="round"/>
<polyline points="150.4,737.37 161.8,737.20 173.1,737.06 184.5,736.98 195.9,736.87 207.2,736.68 218.6,736.49 230.0,736.32 241.4,736.17 252.7,736.01 264.1,735.75 275.5,735.50 286.8,735.46 298.2,735.34 309.6,735.40 320.9,735.33 332.3,735.33 343.7,735.32 355.1,735.29 366.4,735.19 377.8,734.96 389.2,734.58 400.5,733.88 411.9,733.17 423.3,732.63 434.6,732.31 446.0,731.67 457.4,731.15 468.8,730.77 480.1,730.23 491.5,729.94 502.9,729.62 514.2,729.59 525.6,729.68 537.0,729.35 548.4,729.32 559.7,729.41 571.1,729.25 582.5,729.23" fill="none" stroke="#4e79a7" stroke-width="3" stroke-linejoin="round" stroke-linecap="round"/>
<line x1="230.0" y1="752.0" x2="230.0" y2="755.5" stroke="#f4f4f4" stroke-width="1"/>
<text x="230.0" y="770.8" font-size="12" fill="#666666" text-anchor="middle" font-family="'Liberation Sans', sans-serif" textLength="28" lengthAdjust="spacingAndGlyphs" >1987</text>
<line x1="343.7" y1="752.0" x2="343.7" y2="755.5" stroke="#f4f4f4" stroke-width="1"/>
<text x="343.7" y="770.8" font-size="12" fill="#666666" text-anchor="middle" font-family="'Liberation Sans', sans-serif" textLength="28" lengthAdjust="spacingAndGlyphs" >1997</text>
<line x1="457.4" y1="752.0" x2="457.4" y2="755.5" stroke="#f4f4f4" stroke-width="1"/>
<text x="457.4" y="770.8" font-size="12" fill="#666666" text-anchor="middle" font-family="'Liberation Sans', sans-serif" textLength="28" lengthAdjust="spacingAndGlyphs" >2007</text>
<line x1="571.1" y1="752.0" x2="571.1" y2="755.5" stroke="#f4f4f4" stroke-width="1"/>
<text x="571.1" y="770.8" font-size="12" fill="#666666" text-anchor="middle" font-family="'Liberation Sans', sans-serif" textLength="28" lengthAdjust="spacingAndGlyphs" >2017</text>
<text x="367" y="798.5" font-size="11.5" fill="#333333" text-anchor="middle" font-family="'Liberation Sans', sans-serif" textLength="67" lengthAdjust="spacingAndGlyphs" >Año de Date</text>
<text transform="translate(31.5,616) rotate(-90)" font-size="11.5" fill="#333333" text-anchor="middle" font-family="'Liberation Sans', sans-serif" textLength="73" lengthAdjust="spacingAndGlyphs">Expenditures</text>
<rect x="112.5" y="777.5" width="10" height="10" rx="1" fill="#fff" stroke="#5a5a5a" stroke-width="1"/>
<path d="M115 782.5H120M117.5 780V785" stroke="#555" stroke-width="1" fill="none"/>
<line x1="716.5" y1="714.5" x2="1631.5" y2="714.5" stroke="#f1f1f1" stroke-width="1"/>
<text x="713.5" y="717.8" font-size="12" fill="#666666" text-anchor="end" font-family="'Liberation Sans', sans-serif" textLength="27.5" lengthAdjust="spacingAndGlyphs" >$ 0M</text>
<line x1="716.5" y1="627.5" x2="1631.5" y2="627.5" stroke="#f1f1f1" stroke-width="1"/>
<text x="713.5" y="630.8" font-size="12" fill="#666666" text-anchor="end" font-family="'Liberation Sans', sans-serif" textLength="59.5" lengthAdjust="spacingAndGlyphs" >$ 50.000M</text>
<line x1="716.5" y1="540.5" x2="1631.5" y2="540.5" stroke="#f1f1f1" stroke-width="1"/>
<text x="713.5" y="543.8" font-size="12" fill="#666666" text-anchor="end" font-family="'Liberation Sans', sans-serif" textLength="66.5" lengthAdjust="spacingAndGlyphs" >$ 100.000M</text>
<line x1="720.5" y1="479.5" x2="720.5" y2="751.5" stroke="#eeeeee" stroke-width="1"/>
<line x1="720.5" y1="751.5" x2="1631.5" y2="751.5" stroke="#eeeeee" stroke-width="1"/>
<polyline points="762.5,714.40 784.2,675.62 806.0,676.66 827.7,682.40 849.4,678.40 871.1,676.49 892.9,694.92 914.6,670.06 936.3,636.32 958.1,629.36 979.8,625.88 1001.5,644.32 1023.3,655.62 1045.0,659.62 1066.7,677.01 1088.5,664.84 1110.2,662.23 1131.9,661.71 1153.6,634.41 1175.4,616.84 1197.1,587.45 1218.8,576.50 1240.6,545.37 1262.3,556.67 1284.0,582.24 1305.8,578.76 1327.5,604.50 1349.2,598.58 1370.9,626.75 1392.7,612.32 1414.4,633.36 1436.1,613.71 1457.9,613.71 1479.6,664.14 1501.3,548.33 1523.1,492.85 1544.8,534.07 1566.5,556.67 1588.2,527.63" fill="none" stroke="#b07aa1" stroke-width="3" stroke-linejoin="round" stroke-linecap="round"/>
<polyline points="762.5,714.40 784.2,695.97 806.0,695.27 827.7,698.58 849.4,693.36 871.1,688.66 892.9,693.01 914.6,698.58 936.3,688.31 958.1,698.58 979.8,688.66 1001.5,705.53 1023.3,709.88 1045.0,713.53 1066.7,724.31 1088.5,711.79 1110.2,700.31 1131.9,689.01 1153.6,679.10 1175.4,687.62 1197.1,684.66 1218.8,693.53 1240.6,678.05 1262.3,671.10 1284.0,682.05 1305.8,675.10 1327.5,690.92 1349.2,677.71 1370.9,703.97 1392.7,716.83 1414.4,700.84 1436.1,690.92 1457.9,694.58 1479.6,697.01 1501.3,703.97 1523.1,695.62 1544.8,678.40 1566.5,695.97 1588.2,693.53" fill="none" stroke="#edc948" stroke-width="3" stroke-linejoin="round" stroke-linecap="round"/>
<polyline points="762.5,714.40 784.2,700.84 806.0,703.97 827.7,706.40 849.4,705.88 871.1,698.92 892.9,694.58 914.6,693.88 936.3,690.92 958.1,703.27 979.8,695.97 1001.5,698.40 1023.3,698.92 1045.0,700.49 1066.7,704.49 1088.5,706.23 1110.2,704.31 1131.9,697.88 1153.6,683.62 1175.4,705.53 1197.1,709.88 1218.8,697.88 1240.6,695.62 1262.3,676.49 1284.0,689.36 1305.8,692.49 1327.5,681.71 1349.2,677.01 1370.9,722.75 1392.7,699.97 1414.4,678.40 1436.1,705.88 1457.9,657.71 1479.6,685.01 1501.3,712.49 1523.1,698.92 1544.8,673.19 1566.5,673.19 1588.2,697.01" fill="none" stroke="#59a14f" stroke-width="3" stroke-linejoin="round" stroke-linecap="round"/>
<polyline points="762.5,714.40 784.2,689.36 806.0,688.31 827.7,690.05 849.4,691.62 871.1,694.92 892.9,697.01 914.6,693.36 936.3,695.62 958.1,677.01 979.8,683.97 1001.5,682.58 1023.3,667.10 1045.0,671.97 1066.7,662.23 1088.5,664.14 1110.2,673.19 1131.9,679.62 1153.6,711.27 1175.4,694.92 1197.1,682.05 1218.8,644.67 1240.6,660.84 1262.3,661.19 1284.0,630.41 1305.8,630.75 1327.5,516.50 1349.2,629.36 1370.9,611.28 1392.7,621.71 1414.4,652.84 1436.1,640.32 1457.9,637.88 1479.6,646.23 1501.3,620.49 1523.1,623.28 1544.8,628.67 1566.5,621.36 1588.2,581.71" fill="none" stroke="#76b7b2" stroke-width="3" stroke-linejoin="round" stroke-linecap="round"/>
<polyline points="762.5,714.40 784.2,702.92 806.0,709.88 827.7,705.88 849.4,706.40 871.1,707.44 892.9,702.23 914.6,700.84 936.3,701.36 958.1,695.97 979.8,683.10 1001.5,657.71 1023.3,670.06 1045.0,676.84 1066.7,682.58 1088.5,686.92 1110.2,694.92 1131.9,693.53 1153.6,692.49 1175.4,674.06 1197.1,669.19 1218.8,651.62 1240.6,648.32 1262.3,657.19 1284.0,653.88 1305.8,664.84 1327.5,737.70 1349.2,664.84 1370.9,666.58 1392.7,633.36 1414.4,654.23 1436.1,690.05 1457.9,671.45 1479.6,656.32 1501.3,569.02 1523.1,596.50 1544.8,657.19 1566.5,676.14 1588.2,672.66" fill="none" stroke="#e15759" stroke-width="3" stroke-linejoin="round" stroke-linecap="round"/>
<polyline points="762.5,714.40 784.2,712.66 806.0,712.66 827.7,712.66 849.4,713.01 871.1,713.53 892.9,712.83 914.6,712.66 936.3,712.66 958.1,712.66 979.8,712.31 1001.5,711.79 1023.3,711.79 1045.0,711.27 1066.7,710.40 1088.5,713.18 1110.2,711.44 1131.9,713.88 1153.6,712.83 1175.4,710.75 1197.1,709.88 1218.8,707.44 1240.6,708.49 1262.3,702.92 1284.0,709.18 1305.8,707.79 1327.5,706.92 1349.2,710.23 1370.9,699.44 1392.7,698.58 1414.4,703.27 1436.1,705.88 1457.9,709.18 1479.6,704.49 1501.3,698.40 1523.1,692.49 1544.8,704.84 1566.5,698.92 1588.2,694.92" fill="none" stroke="#f28e2b" stroke-width="3" stroke-linejoin="round" stroke-linecap="round"/>
<polyline points="762.5,714.40 784.2,711.79 806.0,712.14 827.7,713.18 849.4,712.66 871.1,711.27 892.9,711.44 914.6,711.79 936.3,711.97 958.1,711.97 979.8,710.23 1001.5,710.40 1023.3,713.88 1045.0,712.49 1066.7,715.27 1088.5,713.36 1110.2,714.40 1131.9,714.23 1153.6,713.88 1175.4,712.83 1197.1,710.75 1218.8,708.49 1240.6,703.27 1262.3,703.27 1284.0,705.88 1305.8,709.36 1327.5,704.31 1349.2,706.23 1370.9,708.31 1392.7,705.88 1414.4,709.88 1436.1,709.36 1457.9,713.88 1479.6,715.79 1501.3,709.18 1523.1,713.88 1544.8,715.79 1566.5,711.79 1588.2,714.23" fill="none" stroke="#4e79a7" stroke-width="3" stroke-linejoin="round" stroke-linecap="round"/>
<line x1="827.7" y1="752.0" x2="827.7" y2="755.5" stroke="#f4f4f4" stroke-width="1"/>
<text x="827.7" y="770.8" font-size="12" fill="#666666" text-anchor="middle" font-family="'Liberation Sans', sans-serif" textLength="28" lengthAdjust="spacingAndGlyphs" >1983</text>
<line x1="936.3" y1="752.0" x2="936.3" y2="755.5" stroke="#f4f4f4" stroke-width="1"/>
<text x="936.3" y="770.8" font-size="12" fill="#666666" text-anchor="middle" font-family="'Liberation Sans', sans-serif" textLength="28" lengthAdjust="spacingAndGlyphs" >1988</text>
<line x1="1045.0" y1="752.0" x2="1045.0" y2="755.5" stroke="#f4f4f4" stroke-width="1"/>
<text x="1045.0" y="770.8" font-size="12" fill="#666666" text-anchor="middle" font-family="'Liberation Sans', sans-serif" textLength="28" lengthAdjust="spacingAndGlyphs" >1993</text>
<line x1="1153.6" y1="752.0" x2="1153.6" y2="755.5" stroke="#f4f4f4" stroke-width="1"/>
<text x="1153.6" y="770.8" font-size="12" fill="#666666" text-anchor="middle" font-family="'Liberation Sans', sans-serif" textLength="28" lengthAdjust="spacingAndGlyphs" >1998</text>
<line x1="1262.3" y1="752.0" x2="1262.3" y2="755.5" stroke="#f4f4f4" stroke-width="1"/>
<text x="1262.3" y="770.8" font-size="12" fill="#666666" text-anchor="middle" font-family="'Liberation Sans', sans-serif" textLength="28" lengthAdjust="spacingAndGlyphs" >2003</text>
<line x1="1370.9" y1="752.0" x2="1370.9" y2="755.5" stroke="#f4f4f4" stroke-width="1"/>
<text x="1370.9" y="770.8" font-size="12" fill="#666666" text-anchor="middle" font-family="'Liberation Sans', sans-serif" textLength="28" lengthAdjust="spacingAndGlyphs" >2008</text>
<line x1="1479.6" y1="752.0" x2="1479.6" y2="755.5" stroke="#f4f4f4" stroke-width="1"/>
<text x="1479.6" y="770.8" font-size="12" fill="#666666" text-anchor="middle" font-family="'Liberation Sans', sans-serif" textLength="28" lengthAdjust="spacingAndGlyphs" >2013</text>
<line x1="1588.2" y1="752.0" x2="1588.2" y2="755.5" stroke="#f4f4f4" stroke-width="1"/>
<text x="1588.2" y="770.8" font-size="12" fill="#666666" text-anchor="middle" font-family="'Liberation Sans', sans-serif" textLength="28" lengthAdjust="spacingAndGlyphs" >2018</text>
<text x="1175.5" y="798.5" font-size="11.5" fill="#333333" text-anchor="middle" font-family="'Liberation Sans', sans-serif" textLength="67" lengthAdjust="spacingAndGlyphs" >Año de Date</text>
<text transform="translate(635,616) rotate(-90)" font-size="11.5" fill="#333333" text-anchor="middle" font-family="'Liberation Sans', sans-serif" textLength="152" lengthAdjust="spacingAndGlyphs">Diferencia en Expenditures</text>
</svg>
</body></html>
